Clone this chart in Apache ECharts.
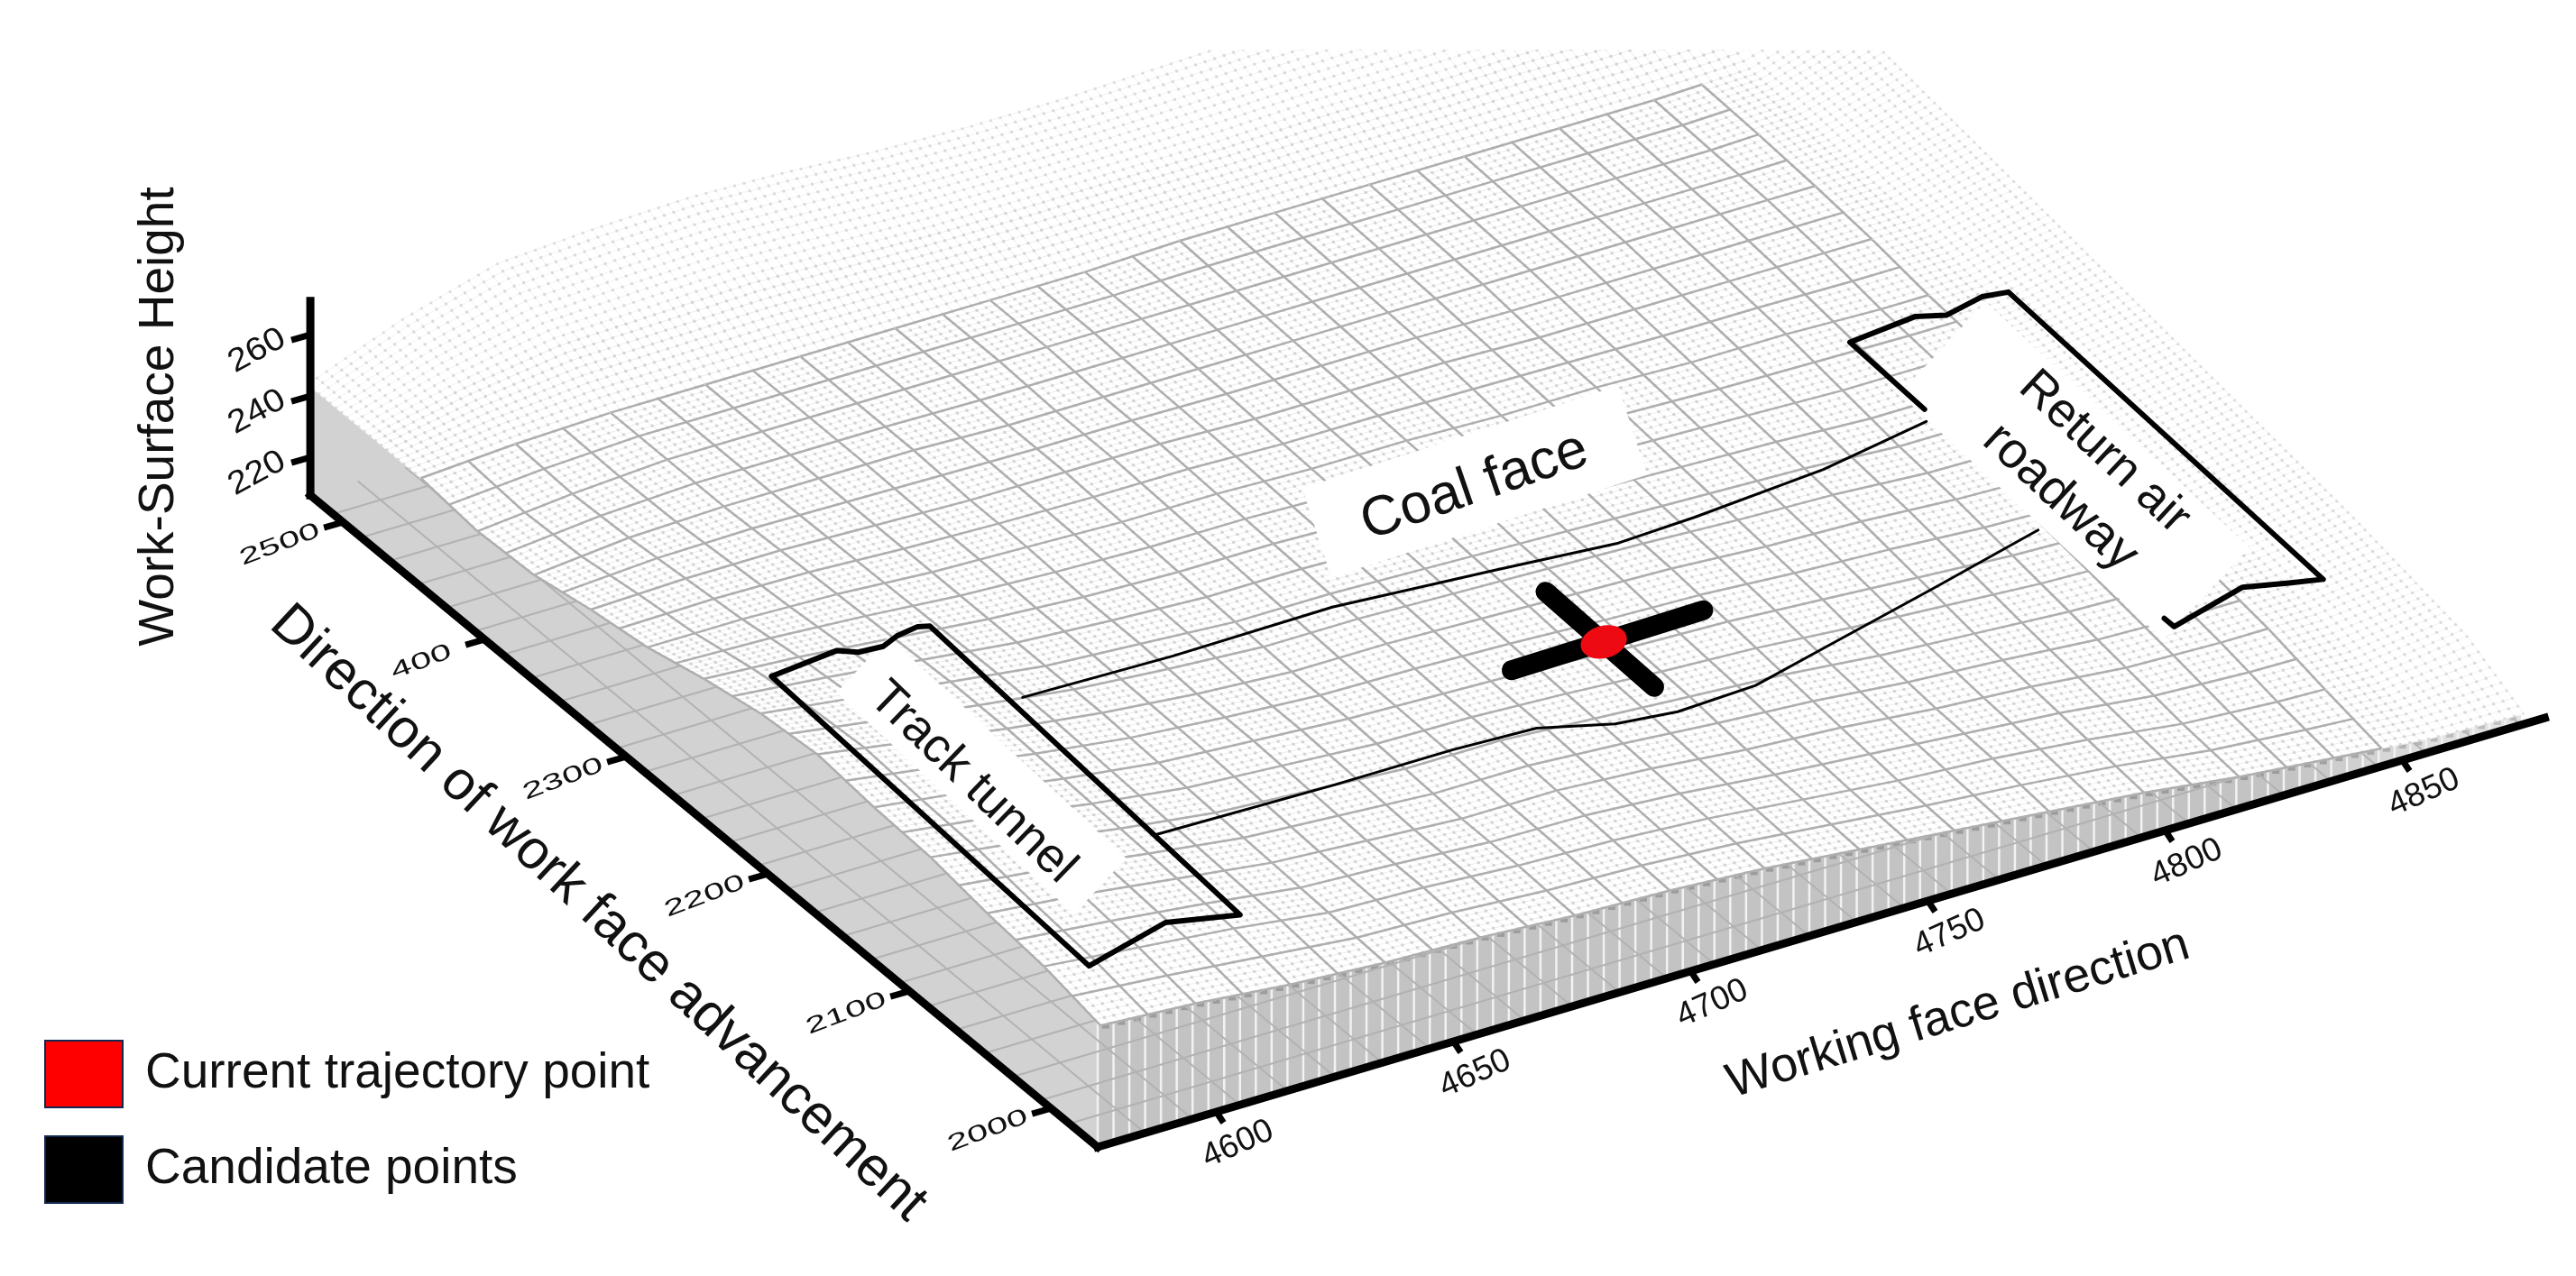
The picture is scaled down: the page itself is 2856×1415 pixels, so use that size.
<!DOCTYPE html>
<html lang="en">
<head>
    <meta charset="UTF-8">
    <title>Work surface</title>
    <script src="https://cdn.jsdelivr.net/npm/echarts@6/dist/echarts.min.js"></script>
    <style>
        *{
            padding: 0;
            margin: 0;
        }
        html, body{
            width: 100%;
            height: 100%;
            background: #fff;
        }
        .echarts{
            width: 100%;
            height: 100%;
        }
    </style>
</head>
<body>
<div class="echarts"></div>
<script>
    // surface heights
    const xCols = [4575, 4595, 4615, 4635, 4655, 4675, 4695, 4715, 4735, 4755, 4775, 4795, 4815, 4835, 4855, 4875];
    const yRows = [1965, 2005, 2045, 2085, 2125, 2165, 2205, 2245, 2285, 2325, 2365, 2405, 2445, 2485, 2525];
    const heights = [
        [248, 246, 243, 241, 240, 238, 237, 235, 232, 229, 226, 223, 219, 216, 213, 212],
        [252, 249, 246, 242, 241, 239, 238, 236, 233, 230, 228, 225, 221, 219, 218, 222],
        [254, 251, 247, 243, 241, 239, 239, 237, 234, 232, 229, 227, 224, 223, 223, 226],
        [257, 253, 248, 244, 242, 240, 240, 238, 236, 234, 231, 229, 227, 226, 226, 230],
        [258, 254, 249, 245, 243, 241, 240, 239, 237, 236, 234, 232, 230, 229, 229, 233],
        [260, 255, 250, 246, 243, 241, 241, 240, 239, 238, 236, 235, 233, 232, 232, 236],
        [258, 254, 250, 246, 244, 242, 242, 241, 240, 239, 238, 237, 235, 235, 235, 239],
        [254, 252, 249, 246, 244, 243, 243, 242, 242, 241, 240, 239, 238, 238, 238, 242],
        [249, 249, 248, 246, 245, 244, 244, 243, 243, 242, 242, 241, 241, 240, 240, 245],
        [246, 247, 247, 246, 245, 245, 245, 244, 244, 244, 243, 243, 243, 243, 243, 248],
        [242, 245, 246, 246, 246, 245, 245, 245, 245, 245, 245, 245, 245, 245, 245, 251],
        [241, 244, 246, 246, 246, 246, 246, 246, 246, 246, 246, 246, 246, 246, 247, 254],
        [243, 245, 246, 246, 246, 246, 246, 246, 247, 247, 247, 247, 247, 247, 248, 257],
        [243, 250, 255, 256, 257, 256, 255, 255, 255, 255, 256, 256, 257, 257, 258, 262],
        [243, 255, 264, 266, 267, 266, 264, 263, 263, 264, 265, 266, 267, 268, 268, 268]
    ];

    // axis ticks
    const heightTicks = [220, 240, 260];
    const advanceTicks = [2500, 2400, 2300, 2200, 2100, 2000];
    const advanceLabels = ['2500', '400', '2300', '2200', '2100', '2000'];
    const faceTicks = [4600, 4650, 4700, 4750, 4800, 4850];

    // roadway outlines and coal face edges, all on height 240
    const trackTunnel = [[4594, 2261], [4609, 2265], [4612, 2260], [4617, 2259], [4621, 2263], [4626, 2265], [4628, 2263], [4622, 2024], [4609, 2033], [4589, 2020], [4594, 2261]];
    const returnRoadway = [[4823, 2214], [4824, 2270], [4839, 2274], [4844, 2269], [4853, 2274], [4858, 2272], [4853, 2033], [4847, 2037], [4839, 2043], [4821, 2031], [4821, 2038]];
    const faceUpperEdge = [[4629, 2201], [4660, 2199], [4694, 2200], [4726, 2193], [4750, 2187], [4767, 2189], [4796, 2195], [4821, 2206]];
    const faceLowerEdge = [[4624, 2090], [4661, 2088], [4686, 2088], [4703, 2086], [4716, 2074], [4728, 2070], [4745, 2072], [4763, 2083], [4791, 2100], [4818, 2117]];
    const lineHeight = 240;

    const currentPoint = [4729.6, 2127.6, 240];
    const candidateSegments = [
        [[4710, 2127], [4751, 2129]],
        [[4730, 2170], [4729, 2090]]
    ];

    // hand fitted view of the box, x/y/z units to page pixels
    const FLOOR = 207.6, X0 = 4575, Y0 = 1967, X1 = 4880, Y1 = 2523, ZTOP = 271;
    function project(x, y, z) {
        return [
            1217 + (x - X0) * 5.26 - (y - Y0) * 1.57,
            1272 - (x - X0) * 1.56 - (y - Y0) * 1.3 - (z - FLOOR) * 3.4
        ];
    }

    const cells = [];
    yRows.slice(1).forEach((r, j) => xCols.slice(1).forEach((c, i) => cells.push([i, j])));

    function cellPoint(i, j, u, v) {
        const h = (1 - v) * ((1 - u) * heights[j][i] + u * heights[j][i + 1])
            + v * ((1 - u) * heights[j + 1][i] + u * heights[j + 1][i + 1]);
        return project(
            xCols[i] + u * (xCols[i + 1] - xCols[i]),
            yRows[j] + v * (yRows[j + 1] - yRows[j]),
            h
        );
    }

    function seg(api, a, b, stroke, width, extra) {
        const p = api.coord(a), q = api.coord(b);
        return {
            type: 'line',
            silent: true,
            shape: {x1: p[0], y1: p[1], x2: q[0], y2: q[1]},
            style: Object.assign({stroke: stroke, lineWidth: width, fill: null}, extra || {})
        };
    }

    function polyOf(api, pts, style) {
        return {
            type: 'polygon',
            silent: true,
            shape: {points: pts.map(p => api.coord(p))},
            style: style
        };
    }

    function lineOf(api, pts, width) {
        return {
            type: 'polyline',
            silent: true,
            shape: {points: pts.map(p => api.coord(project(p[0], p[1], lineHeight)))},
            style: {stroke: '#000', lineWidth: width, fill: null, lineJoin: 'round', lineCap: 'round'}
        };
    }

    // grey side wall under the x=4575 edge
    function renderBand(params, api) {
        const top = yRows.map((y, j) => project(X0, y, heights[j][0]));
        const pts = top.concat([project(X0, yRows[yRows.length - 1], FLOOR), project(X0, yRows[0], FLOOR)]);
        return polyOf(api, pts, {fill: '#d2d2d2'});
    }

    // striped front wall under the y=1965 edge
    function renderFrontCell(params, api) {
        const i = api.value(0);
        const children = [];
        const a = heights[0][i], b = heights[0][i + 1];
        const steps = 6;
        for (let k = 0; k < steps; k++) {
            const u = k / steps, w = (k + 1) / steps;
            const x = xCols[i] + u * 20, x2 = xCols[i] + w * 20;
            const h = a + u * (b - a), h2 = a + w * (b - a);
            const fade = Math.max(0.35, Math.min(1, (h - FLOOR) / 10));
            children.push(polyOf(api, [project(x, Y0, FLOOR), project(x2, Y0, FLOOR), project(x2, Y0, h2), project(x, Y0, h)], {fill: '#c3c3c3', opacity: fade}));
            children.push(seg(api, project(x, Y0, FLOOR), project(x, Y0, h), '#f2f2f2', 2.5));
            const mid = project((x + x2) / 2, Y0, (h + h2) / 2);
            children.push(seg(api, mid, [mid[0], mid[1] + 8], '#9c9c9c', 8, {opacity: fade}));
        }
        return {type: 'group', children: children};
    }

    // floor ruling, seen through the walls and hidden by the surface
    function renderFloor(params, api) {
        const children = [];
        for (let y = Y0; y <= Y1; y += 20) {
            children.push(seg(api, project(X0, y, FLOOR), project(4875, y, FLOOR), '#b2b2b2', 2));
        }
        for (let x = X0 + 10; x <= 4875; x += 10) {
            children.push(seg(api, project(x, Y0, FLOOR), project(x, Y1, FLOOR), '#b2b2b2', 2));
        }
        return {type: 'group', children: children};
    }

    function renderCellFill(params, api) {
        const i = api.value(0), j = api.value(1);
        return polyOf(api, [cellPoint(i, j, 0, 0), cellPoint(i, j, 1, 0), cellPoint(i, j, 1, 1), cellPoint(i, j, 0, 1)], {fill: '#fff', stroke: '#fff', lineWidth: 1});
    }

    function fineLine(api, a, b, children, opacity) {
        const p = api.coord(a), q = api.coord(b);
        const period = Math.hypot(q[0] - p[0], q[1] - p[1]) / 10;
        children.push(seg(api, a, b, '#eeeeee', 1, {opacity: opacity}));
        children.push(seg(api, a, b, '#d4d4d4', 2.5, {
            opacity: opacity,
            lineDash: [3, Math.max(1, period - 3)],
            lineDashOffset: 1.5
        }));
    }

    // each cell carries 10x10 fine rulings and the 2x2 major rulings
    function renderCellRuling(params, api) {
        const i = api.value(0), j = api.value(1);
        const lastI = i === xCols.length - 2, lastJ = j === yRows.length - 2;
        const children = [];
        const opacity = (lastI || lastJ) ? 0.7 : 1;
        for (let k = 0; k <= 10; k++) {
            if (k < 10 || lastI) fineLine(api, cellPoint(i, j, k / 10, 0), cellPoint(i, j, k / 10, 1), children, opacity);
            if (k < 10 || lastJ) fineLine(api, cellPoint(i, j, 0, k / 10), cellPoint(i, j, 1, k / 10), children, opacity);
        }
        const major = '#aeaeae';
        if (j < 12 && !lastI) {
            children.push(seg(api, cellPoint(i, j, 0, 0), cellPoint(i, j, 0, 1), major, 2.5));
            children.push(seg(api, cellPoint(i, j, 0.5, 0), cellPoint(i, j, 0.5, 1), major, 2.5));
        }
        if (j <= 12 && !lastI) {
            const end = i === xCols.length - 3 ? 0.5 : 1;
            children.push(seg(api, cellPoint(i, j, 0, 0), cellPoint(i, j, end, 0), major, 2.5));
            if (j < 12) children.push(seg(api, cellPoint(i, j, 0, 0.5), cellPoint(i, j, end, 0.5), major, 2.5));
        }
        return {type: 'group', children: children};
    }

    function tickLabel(api, at, text, rotation, size, scaleY) {
        const p = api.coord(at);
        return {
            type: 'text',
            silent: true,
            x: p[0],
            y: p[1],
            rotation: rotation,
            scaleY: scaleY,
            style: {
                text: text,
                fontFamily: 'Liberation Sans',
                fontSize: size,
                fill: '#111',
                align: 'center',
                verticalAlign: 'middle'
            }
        };
    }

    function shift(p, dx, dy) {
        return [p[0] + dx, p[1] + dy];
    }

    function renderAxes(params, api) {
        const corner = project(X0, Y0, FLOOR);
        const children = [
            seg(api, project(X0, Y1, ZTOP), project(X0, Y1, FLOOR), '#000', 9, {lineCap: 'square'}),
            seg(api, project(X0, Y1, FLOOR), corner, '#000', 9, {lineCap: 'square'}),
            seg(api, corner, project(X1, Y0, FLOOR), '#000', 9, {lineCap: 'square'})
        ];
        heightTicks.forEach(v => {
            const p = project(X0, Y1, v);
            children.push(seg(api, p, shift(p, -21, 6), '#000', 7));
            children.push(tickLabel(api, shift(p, -59, 18), String(v), 0.5, 40, 0.9));
        });
        advanceTicks.forEach((v, n) => {
            const p = project(X0, v, FLOOR);
            children.push(seg(api, p, shift(p, -21, 6), '#000', 7));
            children.push(tickLabel(api, shift(p, -70, 25), advanceLabels[n], 0.36, 42, 0.6));
        });
        faceTicks.forEach(v => {
            const p = project(v, Y0, FLOOR);
            children.push(seg(api, p, shift(p, 8, 12), '#000', 7));
            children.push(tickLabel(api, shift(p, 24, 36), String(v), 0.42, 37, 1));
        });
        return {type: 'group', children: children};
    }

    function renderLines(params, api) {
        return {
            type: 'group',
            children: [
                lineOf(api, trackTunnel, 6),
                lineOf(api, returnRoadway, 6),
                lineOf(api, faceUpperEdge, 3),
                lineOf(api, faceLowerEdge, 3)
            ]
        };
    }

    function renderCandidates(params, api) {
        return {
            type: 'group',
            children: candidateSegments.map(s => lineOf(api, s, 22))
        };
    }

    function renderCurrent(params, api) {
        const p = api.coord(project(currentPoint[0], currentPoint[1], currentPoint[2]));
        return {
            type: 'ellipse',
            silent: true,
            x: p[0],
            y: p[1],
            rotation: 0.26,
            shape: {cx: 0, cy: 0, rx: 26, ry: 18},
            style: {fill: '#ee0a12'}
        };
    }

    function boxText(text, x, y, angle, size) {
        return {
            type: 'text',
            z: 6,
            silent: true,
            x: x,
            y: y,
            rotation: angle * Math.PI / 180,
            style: {
                text: text,
                fontFamily: 'Liberation Sans',
                fontSize: size,
                fill: '#111',
                align: 'center',
                verticalAlign: 'middle'
            }
        };
    }

    function whiteBox(x, y, w, h, angle) {
        return {
            type: 'rect',
            z: 3,
            silent: true,
            x: x,
            y: y,
            rotation: angle * Math.PI / 180,
            shape: {x: -w / 2, y: -h / 2, width: w, height: h},
            style: {fill: '#fff'}
        };
    }

    window.onload = function () {
        const main = document.querySelector('.echarts');
        const myCharts = echarts.init(main, null, {renderer: 'canvas'});

        const base = {type: 'custom', coordinateSystem: 'cartesian2d', animation: false, silent: true, z: 1};
        const option = {
            animation: false,
            backgroundColor: '#fff',
            grid: {left: 0, right: 0, top: 55, bottom: 0},
            xAxis: {type: 'value', min: 0, max: 2856, show: false},
            yAxis: {type: 'value', min: 55, max: 1415, inverse: true, show: false},
            legend: {
                orient: 'vertical',
                left: 44,
                top: 1148,
                itemWidth: 86,
                itemHeight: 74,
                itemGap: 30,
                selectedMode: false,
                icon: 'rect',
                textStyle: {
                    fontFamily: 'Liberation Sans',
                    fontSize: 55,
                    color: '#111',
                    padding: [0, 0, 0, 20]
                },
                data: [
                    {name: 'Current trajectory point', itemStyle: {color: '#ff0000', borderColor: '#10284f', borderWidth: 2}},
                    {name: 'Candidate points', itemStyle: {color: '#000', borderColor: '#10284f', borderWidth: 2}}
                ]
            },
            graphic: [
                whiteBox(1635, 534, 368, 104, 18),
                whiteBox(1088, 860, 360, 85, -43),
                whiteBox(2300, 522, 400, 140, -43),
                boxText('Coal face', 1635, 540, 19, 62),
                boxText('Track tunnel', 1078, 868, -44, 54),
                boxText('Return air', 2333, 502, -43, 54),
                boxText('roadway', 2284, 552, -43, 56),
                boxText('Work-Surface Height', 177, 462, 90, 55),
                boxText('Direction of work face advancement', 663, 1013, -43, 61),
                boxText('Working face direction', 2171, 1125, 17, 54)
            ],
            series: [
                Object.assign({}, base, {name: 'side wall', data: [[0, 0]], renderItem: renderBand}),
                Object.assign({}, base, {name: 'front wall', data: xCols.slice(1).map((c, i) => [i, 0]), renderItem: renderFrontCell}),
                Object.assign({}, base, {name: 'floor', data: [[0, 0]], renderItem: renderFloor}),
                Object.assign({}, base, {name: 'surface', clip: true, data: cells, renderItem: renderCellFill}),
                Object.assign({}, base, {name: 'rulings', clip: true, data: cells, renderItem: renderCellRuling}),
                Object.assign({}, base, {name: 'axes', z: 4, data: [[0, 0]], renderItem: renderAxes}),
                Object.assign({}, base, {name: 'roadways', z: 5, data: [[0, 0]], renderItem: renderLines}),
                Object.assign({}, base, {name: 'Candidate points', z: 5, itemStyle: {color: '#000'}, data: [[0, 0]], renderItem: renderCandidates}),
                Object.assign({}, base, {name: 'Current trajectory point', z: 5, itemStyle: {color: '#ff0000'}, data: [[0, 0]], renderItem: renderCurrent})
            ]
        };
        myCharts.setOption(option);
    };
</script>
</body>
</html>
